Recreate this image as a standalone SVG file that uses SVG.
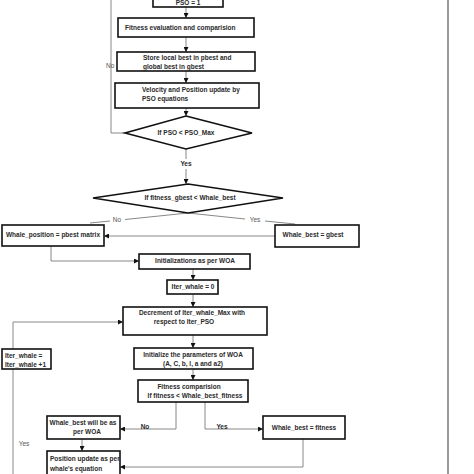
<svg xmlns="http://www.w3.org/2000/svg" width="474" height="474" viewBox="0 0 474 474">
<style>
.box{fill:#fff;stroke:#111;stroke-width:1.6}
.t{font-family:"Liberation Sans",Arial,sans-serif;font-weight:bold;font-size:6.5px;fill:#2a2a2a}
.m{text-anchor:middle}
.c{fill:none;stroke:#888;stroke-width:1}
.lbl{font-family:"Liberation Sans",Arial,sans-serif;font-size:6.5px;fill:#555}
</style>
<defs>
<marker id="ah" markerWidth="5" markerHeight="5" refX="5" refY="2.5" orient="auto" markerUnits="userSpaceOnUse">
<path d="M0,0 L5,2.5 L0,5 z" fill="#111"/>
</marker>
</defs>
<rect width="474" height="474" fill="#fff"/>
<line x1="448" y1="0" x2="448" y2="474" stroke="#999" stroke-width="2"/>

<g id="connectors">
<line class="c" x1="186" y1="7" x2="186" y2="18" marker-end="url(#ah)"/>
<line class="c" x1="186" y1="37" x2="186" y2="52" marker-end="url(#ah)"/>
<line class="c" x1="186" y1="71" x2="186" y2="83" marker-end="url(#ah)"/>
<line class="c" x1="186" y1="108" x2="186" y2="116" marker-end="url(#ah)"/>
<polyline class="c" points="125,133 111,133 111,0"/>
<line class="c" x1="186" y1="149" x2="186" y2="159"/>
<line class="c" x1="186" y1="169" x2="186" y2="184" marker-end="url(#ah)"/>
<line class="c" x1="188" y1="213" x2="125" y2="219.5"/>
<line class="c" x1="110" y1="221" x2="90" y2="223"/>
<line class="c" x1="188" y1="213" x2="245" y2="219"/>
<line class="c" x1="265" y1="221" x2="295" y2="224"/>
<line class="c" x1="275" y1="236" x2="104" y2="236" marker-end="url(#ah)"/>
<polyline class="c" points="51,246 51,261 139,261" marker-end="url(#ah)"/>
<line class="c" x1="193" y1="269" x2="193" y2="280" marker-end="url(#ah)"/>
<line class="c" x1="193" y1="294" x2="193" y2="307" marker-end="url(#ah)"/>
<line class="c" x1="193" y1="335" x2="193" y2="348" marker-end="url(#ah)"/>
<line class="c" x1="193" y1="369" x2="193" y2="380" marker-end="url(#ah)"/>
<polyline class="c" points="13,349 13,322 123,322" marker-end="url(#ah)"/>
<line class="c" x1="13" y1="369" x2="13" y2="474"/>
<polyline class="c" points="176,402 176,429 120,429" marker-end="url(#ah)"/>
<polyline class="c" points="205,402 205,429 263,429" marker-end="url(#ah)"/>
<line class="c" x1="82" y1="439" x2="82" y2="451" marker-end="url(#ah)"/>
<polyline class="c" points="303,439 303,467 120,467" marker-end="url(#ah)"/>
<text class="lbl" x="106" y="68">No</text>
<text class="t m" x="186" y="166">Yes</text>
<text class="lbl m" x="117" y="222">No</text>
<text class="lbl m" x="255" y="222">Yes</text>
<text class="t m" x="145" y="429">No</text>
<text class="t m" x="222" y="429">Yes</text>
<text class="lbl m" x="24" y="446">Yes</text>
</g>

<g id="n-pso1"><rect class="box" x="153" y="-10" width="70" height="17"/><text class="t m" x="188" y="5">PSO = 1</text></g>
<g id="n-fit"><rect class="box" x="118" y="18" width="136" height="19"/><text class="t" x="125" y="30">Fitness evaluation and comparision</text></g>
<g id="n-store"><rect class="box" x="117" y="52" width="138" height="19"/><text class="t" x="143" y="59.5">Store local best in pbest and</text><text class="t" x="143" y="68.5">global best in gbest</text></g>
<g id="n-vel"><rect class="box" x="115" y="83" width="144" height="25"/><text class="t" x="142" y="92">Velocity and Position update by</text><text class="t" x="142" y="101">PSO equations</text></g>
<g id="d-pso"><polygon class="box" points="186,116 252,133 186,149 125,133"/><text class="t m" x="186" y="135">If PSO &lt; PSO_Max</text></g>
<g id="d-gbest"><polygon class="box" points="188,184 283,198 188,213 93,198"/><text class="t m" x="190" y="200">If fitness_gbest &lt; Whale_best</text></g>
<g id="n-wpos"><rect class="box" x="2" y="225" width="102" height="21"/><text class="t m" x="53" y="237">Whale_position = pbest matrix</text></g>
<g id="n-wbg"><rect class="box" x="275" y="225" width="84" height="22"/><text class="t m" x="313" y="237">Whale_best = gbest</text></g>
<g id="n-init"><rect class="box" x="139" y="254" width="111" height="15"/><text class="t m" x="195" y="263">Initializations as per WOA</text></g>
<g id="n-iter0"><rect class="box" x="167" y="280" width="51" height="14"/><text class="t m" x="193" y="289">Iter_whale = 0</text></g>
<g id="n-dec"><rect class="box" x="123" y="307" width="144" height="28"/><text class="t m" x="192" y="315">Decrement of Iter_whale_Max with</text><text class="t m" x="184" y="324">respect to Iter_PSO</text></g>
<g id="n-iter1"><rect class="box" x="2" y="349" width="49" height="20"/><text class="t" x="5" y="358">Iter_whale =</text><text class="t" x="5" y="367">Iter_whale +1</text></g>
<g id="n-param"><rect class="box" x="134" y="348" width="119" height="21"/><text class="t m" x="193" y="357">Initialize the parameters of WOA</text><text class="t m" x="193" y="366">(A, C, b, l, a and a2)</text></g>
<g id="n-fcmp"><rect class="box" x="138" y="380" width="110" height="22"/><text class="t m" x="189" y="389">Fitness comparision</text><text class="t m" x="195" y="398">If fitness &lt; Whale_best_fitness</text></g>
<g id="n-wwoa"><rect class="box" x="47" y="416" width="73" height="23"/><text class="t m" x="83" y="425">Whale_best will be as</text><text class="t m" x="87" y="434">per WOA</text></g>
<g id="n-wfit"><rect class="box" x="263" y="416" width="82" height="23"/><text class="t m" x="304" y="430">Whale_best = fitness</text></g>
<g id="n-pos"><rect class="box" x="47" y="451" width="73" height="30"/><text class="t" x="50" y="461">Position update as per</text><text class="t" x="50" y="471">whale's equation</text></g>
</svg>
